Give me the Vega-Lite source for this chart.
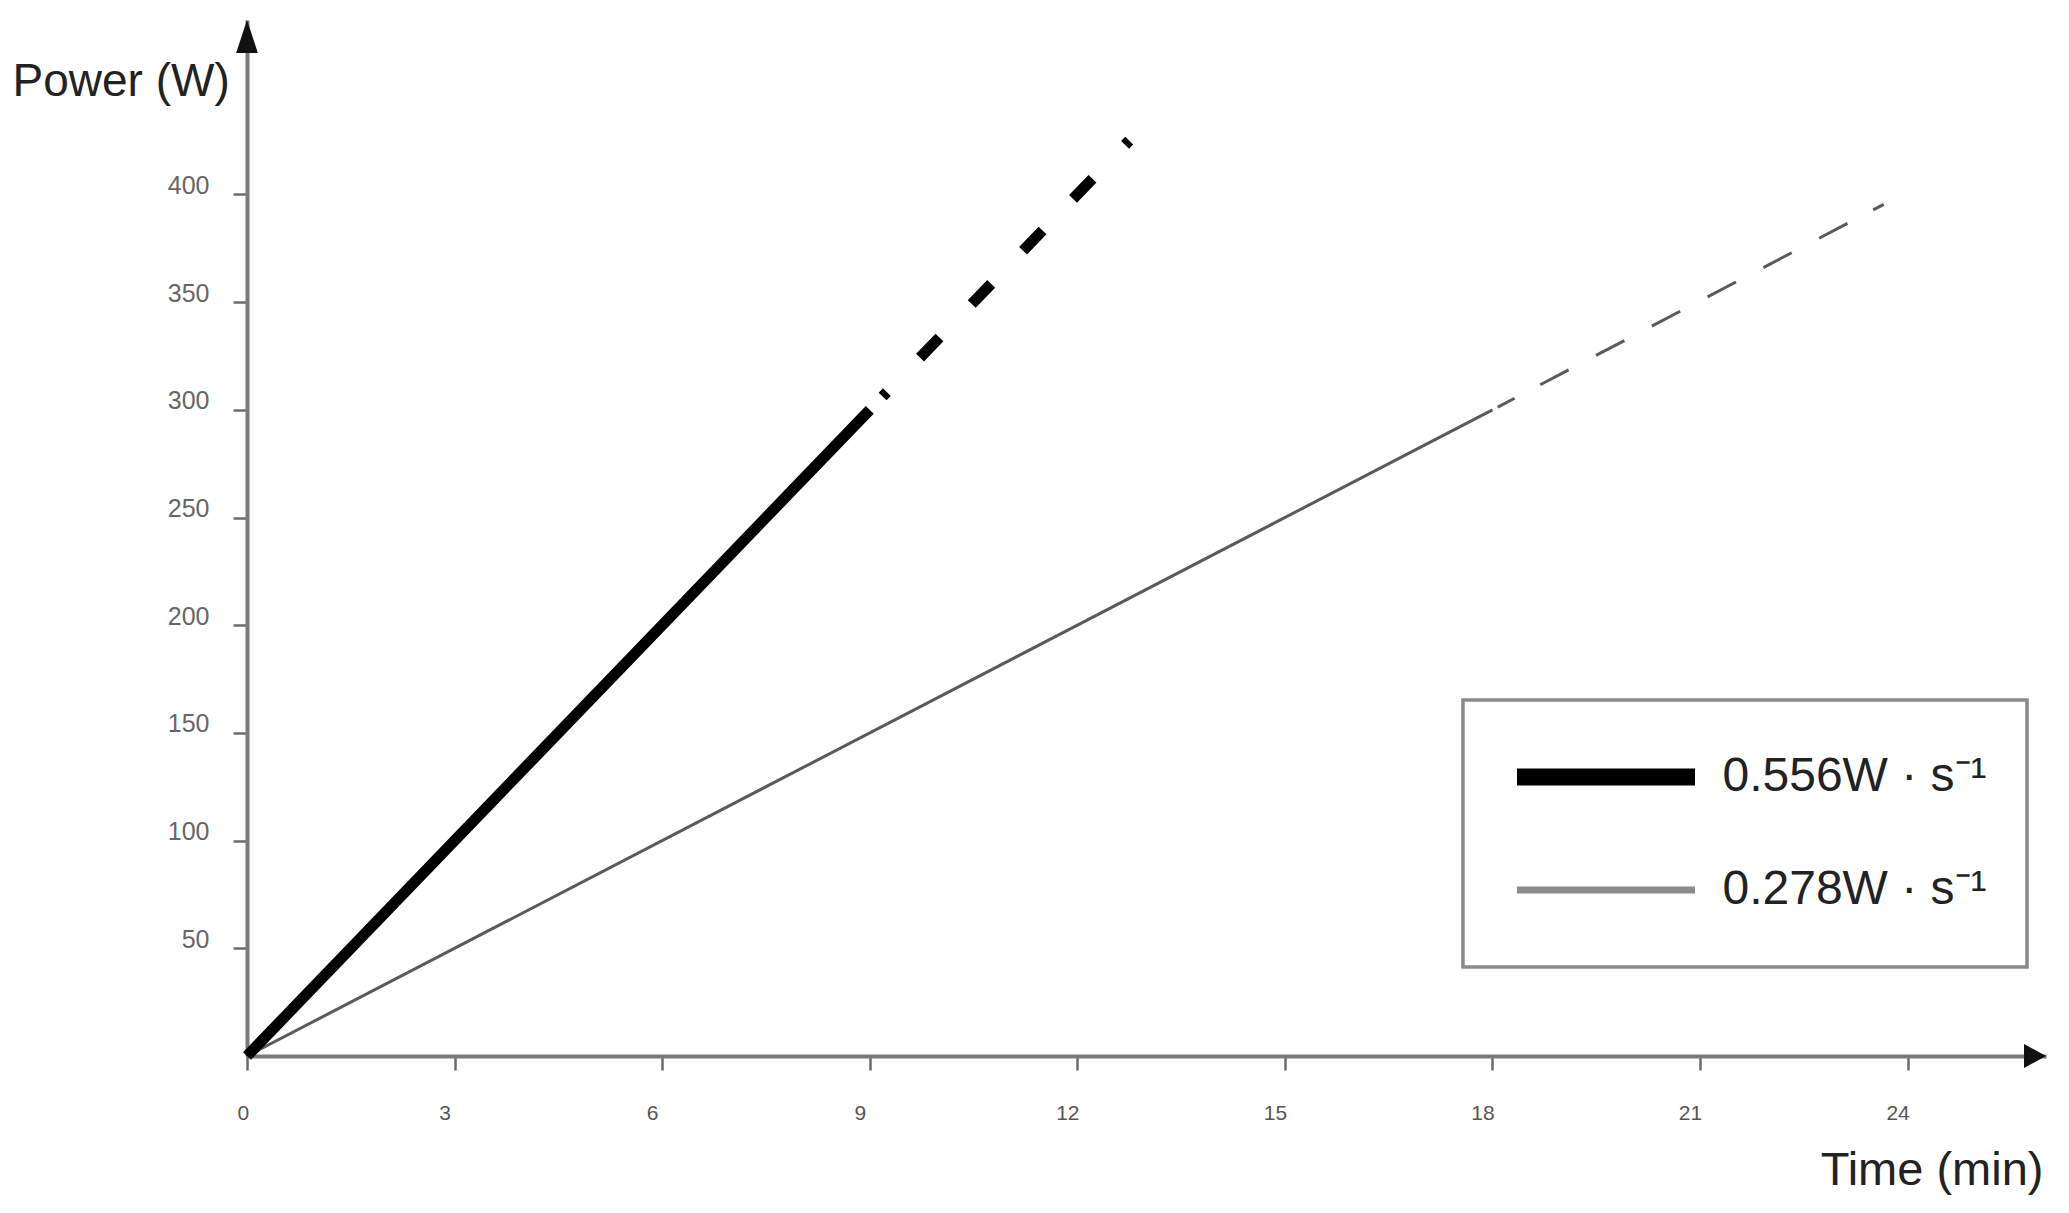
{
  "$schema": "https://vega.github.io/schema/vega-lite/v6.json",
  "width": 1799,
  "height": 1036,
  "autosize": {"type": "none"},
  "padding": {"left": 247, "top": 20, "right": 23, "bottom": 157},
  "background": "#ffffff",
  "datasets": {
    "lines": [
      {"series": "0.556W · s⁻¹", "part": "solid", "time": 0, "power": 0},
      {"series": "0.556W · s⁻¹", "part": "solid", "time": 9, "power": 300},
      {"series": "0.556W · s⁻¹", "part": "dash", "time": 9, "power": 300},
      {"series": "0.556W · s⁻¹", "part": "dash", "time": 12.75, "power": 425},
      {"series": "0.278W · s⁻¹", "part": "solid", "time": 0, "power": 0},
      {"series": "0.278W · s⁻¹", "part": "solid", "time": 18, "power": 300},
      {"series": "0.278W · s⁻¹", "part": "dash", "time": 18, "power": 300},
      {"series": "0.278W · s⁻¹", "part": "dash", "time": 23.75, "power": 397}
    ],
    "arrows": [
      {"dir": "up", "time": 0, "power": 481},
      {"dir": "right", "time": 26, "power": 0}
    ]
  },
  "layer": [
    {
      "data": {"name": "lines"},
      "transform": [{"filter": "datum.part == 'solid' && datum.series == '0.278W · s⁻¹'"}],
      "mark": {"type": "line", "strokeCap": "butt", "color": "#5a5a5a", "strokeWidth": 3},
      "encoding": {
        "x": {
          "field": "time", "type": "quantitative",
          "scale": {"domain": [0, 26], "nice": false, "zero": true},
          "axis": {
            "title": "Time (min)",
            "values": [0, 3, 6, 9, 12, 15, 18, 21, 24],
            "format": "d",
            "grid": false,
            "domainColor": "#7a7a7a", "domainWidth": 4,
            "tickColor": "#6a6a6a", "tickWidth": 2.5, "tickSize": 14,
            "labelFont": "Liberation Sans", "labelFontSize": 21, "labelColor": "#555555",
            "labelPadding": 32, "labelOffset": -10,
            "titleFont": "Liberation Sans", "titleFontSize": 47, "titleFontWeight": "normal", "titleColor": "#222222",
            "titleAlign": "right", "titleBaseline": "middle", "titleX": 1796, "titleY": 114
          }
        },
        "y": {
          "field": "power", "type": "quantitative",
          "scale": {"domain": [0, 481], "nice": false, "zero": true},
          "axis": {
            "title": "Power (W)",
            "values": [50, 100, 150, 200, 250, 300, 350, 400],
            "grid": false,
            "domainColor": "#7a7a7a", "domainWidth": 4,
            "tickColor": "#6a6a6a", "tickWidth": 2.5, "tickSize": 14,
            "labelFont": "Liberation Sans", "labelFontSize": 25, "labelColor": "#666666",
            "labelPadding": 24, "labelOffset": -9,
            "titleFont": "Liberation Sans", "titleFontSize": 46, "titleFontWeight": "normal", "titleColor": "#222222",
            "titleAngle": 0, "titleAlign": "left", "titleBaseline": "middle", "titleX": -235, "titleY": 61
          }
        }
      }
    },
    {
      "data": {"name": "lines"},
      "transform": [{"filter": "datum.part == 'solid' && datum.series == '0.556W · s⁻¹'"}],
      "mark": {"type": "line", "strokeCap": "butt", "strokeWidth": 11},
      "encoding": {
        "x": {"field": "time", "type": "quantitative"},
        "y": {"field": "power", "type": "quantitative"},
        "color": {
          "field": "series", "type": "nominal",
          "scale": {"domain": ["0.556W · s⁻¹", "0.278W · s⁻¹"], "range": ["#000000", "#5a5a5a"]},
          "legend": {
            "title": null,
            "orient": "none", "legendX": 1216, "legendY": 680,
            "symbolType": "stroke", "symbolSize": 31684, "symbolOffset": 10.5,
            "clipHeight": 74, "rowPadding": 39, "padding": 40,
            "labelFont": "Liberation Sans", "labelFontSize": 48, "labelColor": "#222222",
            "labelOffset": 24, "labelLimit": 500, "labelBaseline": "middle",
            "strokeColor": "#8a8a8a", "fillColor": "#ffffff",
            "encode": {
              "legend": {"update": {"strokeWidth": {"value": 3.5}}},
              "symbols": {"update": {
                "strokeWidth": {"signal": "(datum.index == 0 ? 17 : 7)"},
                "strokeOpacity": {"signal": "(datum.index == 0 ? 1 : 0.7)"}
              }}
            }
          }
        }
      }
    },
    {
      "data": {"name": "lines"},
      "transform": [{"filter": "datum.part == 'dash' && datum.series == '0.556W · s⁻¹'"}],
      "mark": {"type": "line", "strokeCap": "butt", "color": "#000000", "strokeWidth": 11,
               "strokeDash": [0, 18.6, 6, 47.9, 28, 46.5, 28, 46, 28, 44, 28, 47, 6, 200]},
      "encoding": {
        "x": {"field": "time", "type": "quantitative"},
        "y": {"field": "power", "type": "quantitative"}
      }
    },
    {
      "data": {"name": "lines"},
      "transform": [{"filter": "datum.part == 'dash' && datum.series == '0.278W · s⁻¹'"}],
      "mark": {"type": "line", "strokeCap": "butt", "color": "#5a5a5a", "strokeWidth": 3,
               "strokeDash": [0, 6, 19, 29, 32, 31, 32, 31, 32, 31, 32, 31, 32, 31, 32, 29, 12, 200]},
      "encoding": {
        "x": {"field": "time", "type": "quantitative"},
        "y": {"field": "power", "type": "quantitative"}
      }
    },
    {
      "data": {"name": "arrows"},
      "transform": [{"filter": "datum.dir == 'up'"}],
      "mark": {"type": "point", "filled": true, "color": "#111111", "opacity": 1,
               "shape": "M0,0L-0.33,1L0.33,1Z", "size": 4356},
      "encoding": {
        "x": {"field": "time", "type": "quantitative"},
        "y": {"field": "power", "type": "quantitative"}
      }
    },
    {
      "data": {"name": "arrows"},
      "transform": [{"filter": "datum.dir == 'right'"}],
      "mark": {"type": "point", "filled": true, "color": "#111111", "opacity": 1,
               "shape": "M0,0L-1,-0.55L-1,0.55Z", "size": 1936},
      "encoding": {
        "x": {"field": "time", "type": "quantitative"},
        "y": {"field": "power", "type": "quantitative"}
      }
    }
  ],
  "config": {
    "view": {"stroke": null},
    "font": "Liberation Sans"
  }
}
